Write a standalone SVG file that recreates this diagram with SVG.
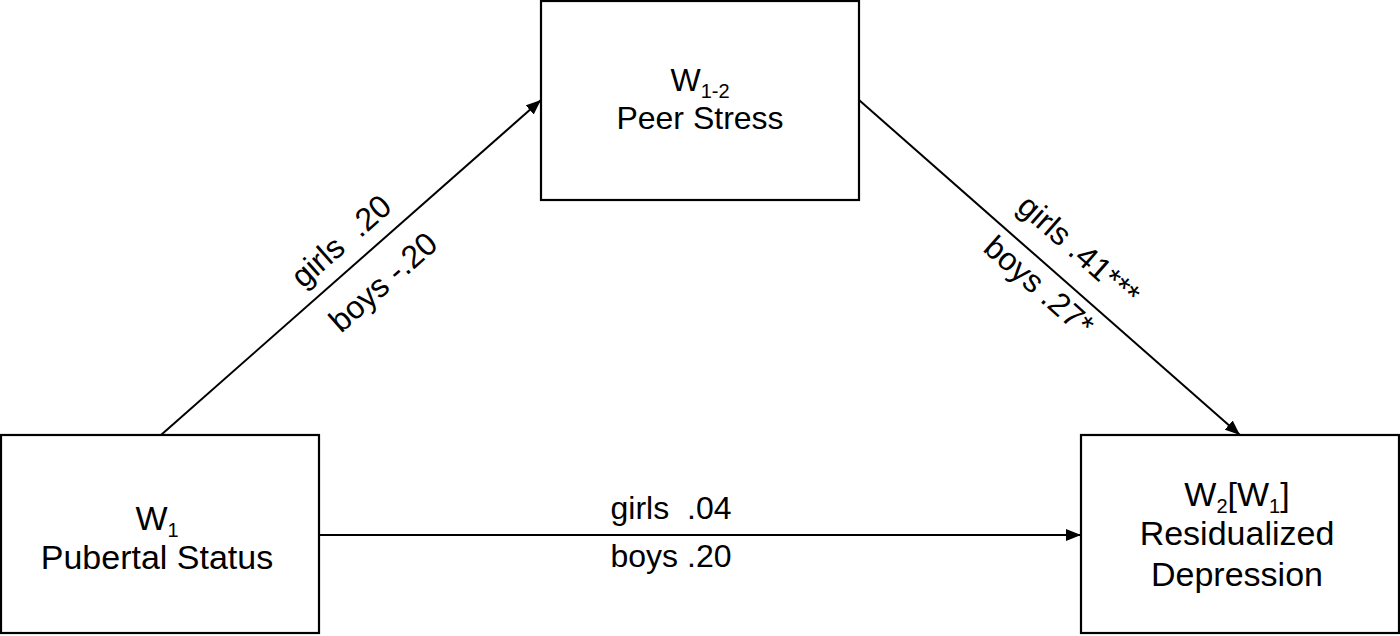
<svg xmlns="http://www.w3.org/2000/svg" width="1400" height="636" viewBox="0 0 1400 636">
<defs>
<marker id="arr" viewBox="0 0 15 12" refX="15" refY="6" markerWidth="15" markerHeight="12" markerUnits="userSpaceOnUse" orient="auto">
<path d="M0,0 L15,6 L0,12 Z" fill="#000"/>
</marker>
<style>
.box{fill:#fff;stroke:#000;stroke-width:2.2}
.t{font-family:"Liberation Sans",Arial,sans-serif;font-size:32px;fill:#000;text-anchor:middle}
.big{font-size:34px}
.sub{font-size:20px}
.edge{stroke:#000;stroke-width:2;fill:none;marker-end:url(#arr)}
</style>
</defs>
<rect width="1400" height="636" fill="#fff"/>
<g id="connectors">
<line class="edge" x1="161" y1="435" x2="541" y2="100"/>
<line class="edge" x1="859" y1="100" x2="1240" y2="435"/>
<line class="edge" x1="319" y1="535" x2="1081" y2="535"/>
</g>
<g id="labels">
<text class="t" transform="translate(341,241) rotate(-41.4)" x="0" y="11" xml:space="preserve">girls  .20</text>
<text class="t" transform="translate(383,282) rotate(-41.4)" x="0" y="11">boys -.20</text>
<text class="t" transform="translate(1079,250) rotate(41.3)" x="0" y="11">girls .41***</text>
<text class="t" transform="translate(1039,286) rotate(41.3)" x="0" y="11">boys .27*</text>
<text class="t" x="671" y="519" xml:space="preserve">girls  .04</text>
<text class="t" x="671" y="567">boys .20</text>
</g>
<g id="node-pubertal">
<rect class="box" x="1" y="435" width="318" height="198"/>
<text class="t big" x="157" y="530">W<tspan class="sub" dy="7">1</tspan></text>
<text class="t big" x="157" y="569">Pubertal Status</text>
</g>
<g id="node-peer">
<rect class="box" x="541" y="1" width="318" height="199"/>
<text class="t" x="700" y="91">W<tspan class="sub" dy="7">1-2</tspan></text>
<text class="t" x="700" y="129">Peer Stress</text>
</g>
<g id="node-depression">
<rect class="box" x="1081" y="435" width="318" height="198"/>
<text class="t big" x="1237" y="506">W<tspan class="sub" dy="7">2</tspan><tspan dy="-7">[W</tspan><tspan class="sub" dy="7">1</tspan><tspan dy="-7">]</tspan></text>
<text class="t big" x="1237" y="545">Residualized</text>
<text class="t big" x="1237" y="586">Depression</text>
</g>
</svg>
